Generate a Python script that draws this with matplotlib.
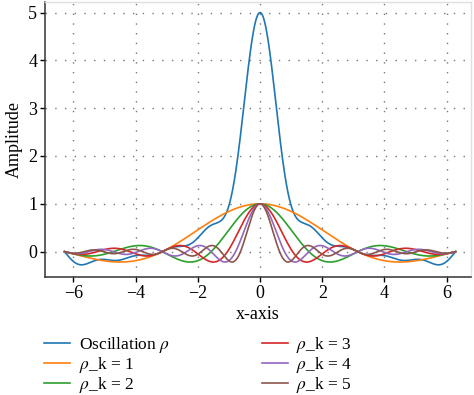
import numpy as np
import matplotlib
matplotlib.use("Agg")
import matplotlib.pyplot as plt

# Data: the curves are normalized sinc oscillations sin(k x)/(k x) for k = 1..5,
# and their sum ("Oscillation rho") over x in [-2pi, 2pi]
k_values = [1, 2, 3, 4, 5]
x_min, x_max = -2 * np.pi, 2 * np.pi
n_samples = 1000
labels = ["Oscillation $\\rho$", "$\\rho$_k = 1", "$\\rho$_k = 2",
          "$\\rho$_k = 3", "$\\rho$_k = 4", "$\\rho$_k = 5"]
colors = ["#1f77b4", "#ff7f0e", "#2ca02c", "#d62728", "#9467bd", "#8c564b"]
xticks = [-6, -4, -2, 0, 2, 4, 6]
yticks = [0, 1, 2, 3, 4, 5]

x = np.linspace(x_min, x_max, n_samples)
components = [np.sinc(k * x / np.pi) for k in k_values]
total = np.sum(components, axis=0)

plt.rcParams['font.family'] = ['Liberation Serif', 'DejaVu Serif']
plt.rcParams['mathtext.fontset'] = 'stix'

fig = plt.figure(figsize=(4.74, 3.95), dpi=100)
ax = fig.add_axes([45 / 474, 118 / 395, (471 - 45) / 474, (393 - 118) / 395])

lines = []
lines.append(ax.plot(x, total, color=colors[0], lw=1.2, label=labels[0])[0])
for c, comp, lab in zip(colors[1:], components, labels[1:]):
    lines.append(ax.plot(x, comp, color=c, lw=1.2, label=lab)[0])

ax.set_xlim(-6.91, 6.78)
ax.set_ylim(-0.53, 5.22)
ax.set_xticks(xticks)
ax.set_yticks(yticks)
ax.set_xticklabels([str(t).replace('-', '\u2212') for t in xticks])
ax.grid(True, linestyle=(0, (1, 6)), color='#777777', linewidth=1.0)
ax.tick_params(direction='out', length=3.5, width=1, labelsize=13, pad=2)
for s in ['left', 'bottom']:
    ax.spines[s].set_color('#333333')
    ax.spines[s].set_linewidth(1.1)
for s in ['top', 'right']:
    ax.spines[s].set_color('#e0e0e0')
    ax.spines[s].set_linewidth(1.0)

ax.set_xlabel('x-axis', fontsize=13, labelpad=3)
ax.set_ylabel('Amplitude', fontsize=13, labelpad=4)

fig.legend(lines, labels, loc='upper left', bbox_to_anchor=(44 / 474, 1 - 335 / 395),
           ncol=2, frameon=False, fontsize=12.5, handlelength=1.5, handletextpad=0.5,
           columnspacing=5.3, labelspacing=0.0, borderaxespad=0, borderpad=0)

fig.savefig('out.png', dpi=100)
